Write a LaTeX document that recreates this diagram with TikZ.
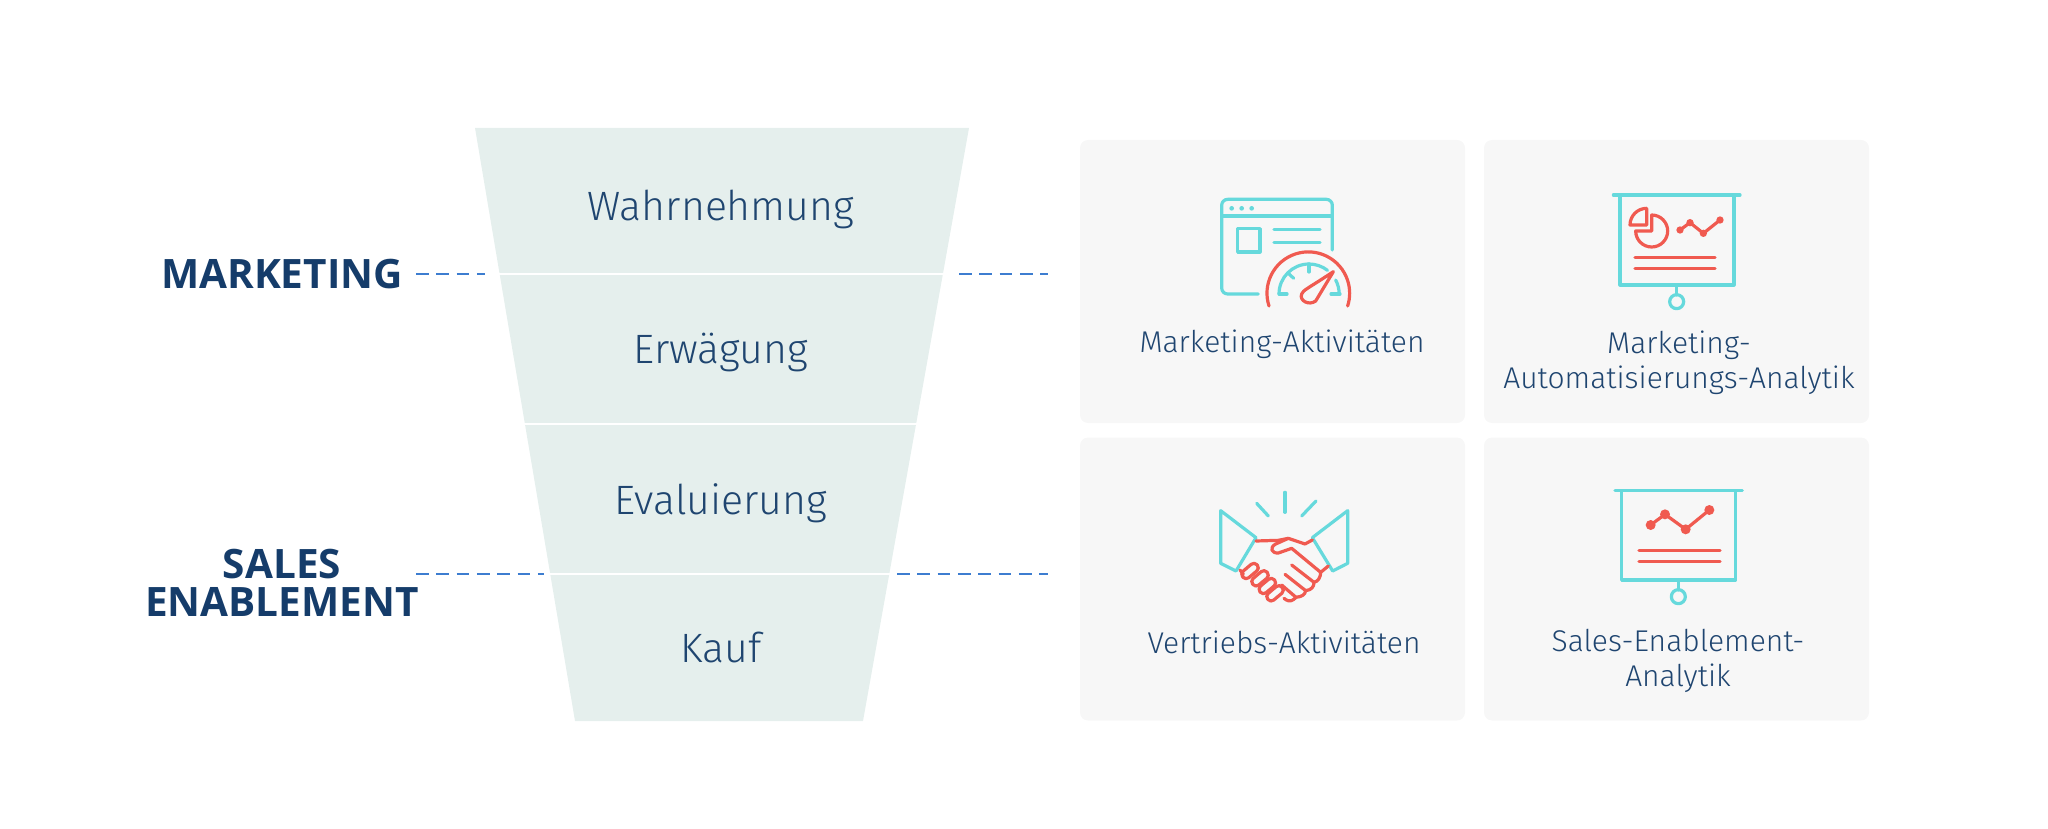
\documentclass[tikz,border=0pt]{standalone}
\usepackage{fontspec}
\setmainfont{Fira Sans Light}[BoldFont={Fira Sans Bold}]
\newfontfamily\headfont{Open Sans}
\usetikzlibrary{calc}
\definecolor{funnelgreen}{HTML}{E5EFED}
\definecolor{panelgrey}{HTML}{F7F7F7}
\definecolor{stageblue}{HTML}{1F4570}
\definecolor{headblue}{HTML}{153C6A}
\definecolor{dashblue}{HTML}{3D7DD0}
\definecolor{iconteal}{HTML}{66D9DC}
\definecolor{iconred}{HTML}{F05A50}
\tikzset{
 stage/.style={text=stageblue, font=\fontsize{41}{44}\selectfont, inner sep=0},
 head/.style={text=headblue, font=\headfont\fontsize{40.5}{38}\selectfont\bfseries, align=center, inner sep=0},
 panel/.style={fill=panelgrey, rounded corners=8, minimum width=385, minimum height=283, inner sep=0},
 paneltext/.style={text=stageblue, font=\fontsize{30}{35.5}\selectfont, align=center, inner sep=0},
 guide/.style={dashblue, line width=2.6, dash pattern=on 12.8 off 7.5},
 teal/.style={iconteal, line width=3.2, line cap=round, line join=round},
 coral/.style={iconred, line width=3.2, line cap=round, line join=round},
 icon/.style={scale=1/3}
}
\begin{document}
\begin{tikzpicture}[x=1pt, y=-1pt]
\useasboundingbox (0,0) rectangle (2048,829);
% funnel
\fill[funnelgreen] (475,128)--(969,128)--(863,721)--(575,721)--cycle;
\foreach \y/\xa/\xb in {274/499/944, 424/524/917, 574/550/890} {
 \draw[white, line width=2.4] (\xa,\y)--(\xb,\y);
}
\foreach \name/\y/\txt in {aware/209/Wahrnehmung, consider/352/Erwägung, evaluate/503/Evaluierung, buy/647/Kauf} {
 \node[stage] (\name) at (721,\y) {\txt};
}
% panels
\node[panel] (panelA) at (1272.5,281.5) {};
\node[panel] (panelB) at (1676.5,281.5) {};
\node[panel] (panelC) at (1272.5,579) {};
\node[panel] (panelD) at (1676.5,579) {};
\node[paneltext] (textA) at (1282,344) {Marketing-Aktivitäten};
\node[paneltext] (textB) at (1679,363) {Marketing-\\Automatisierungs-Analytik};
\node[paneltext] (textC) at (1284,642) {Vertriebs-Aktivitäten};
\node[paneltext] (textD) at (1678,661) {Sales-Enablement-\\Analytik};
% left labels
\node[head] (marketing) at (282,274) {MARKETING};
\node[head] (sales) at (282,583) {SALES\\ENABLEMENT};
% dashed guides
\coordinate (mA) at (416,274); \coordinate (mB) at (485,274);
\coordinate (mC) at (959,274); \coordinate (mD) at (1048,274);
\coordinate (sA) at (416,574); \coordinate (sB) at (544,574);
\coordinate (sC) at (897,574); \coordinate (sD) at (1048,574);
\draw[guide] (mA)--(mB);
\draw[guide] (mC)--(mD);
\draw[guide] (sA)--(sB);
\draw[guide] (sC)--(sD);
% icon browser and gauge
\begin{scope}[shift={(1205,190)}, icon]
\draw[teal] (382,180)--(382,46) arc[start angle=0, end angle=-90, radius=18]--(68,28) arc[start angle=-90, end angle=-180, radius=18]--(50,294) arc[start angle=180, end angle=90, radius=18]--(160,312);
\draw[teal] (50,78)--(382,78);
\foreach \x in {80,110,140} {
 \fill[iconteal] (\x,55) circle (7);
}
\draw[teal] (98,116) rectangle (165,186);
\draw[teal] (207,118)--(345,118);
\draw[teal] (207,157)--(345,157);
\draw[coral] (192,348) arc[start angle=198, end angle=-18, x radius=124, y radius=-124];
\draw[teal] (222,312) arc[start angle=180, end angle=52, x radius=90, y radius=-90];
\draw[teal] (392,270) arc[start angle=28, end angle=0, x radius=90, y radius=-90];
\draw[teal] (222,312)--(246,312);
\draw[teal] (378,312)--(405,312);
\draw[teal] (312,222)--(312,246);
\draw[teal] (250,250)--(266,265);
\draw[coral] (385,245)--(332,333) .. controls (312,348) and (282,332) .. (290,312) .. controls (294,300) and (310,295) .. (385,245)--cycle;
\end{scope}
% icon chart with pie
\begin{scope}[shift={(1605,185)}, icon]
\draw[teal] (25,30)--(405,30);
\draw[teal] (45,30)--(45,300)--(387,300)--(387,30);
\draw[teal] (215,300)--(215,330);
\draw[teal] (215,350) circle (21);
\draw[coral] (140,90) arc[start angle=90, end angle=-180, x radius=48, y radius=-48]--(140,138)--cycle;
\draw[coral] (125,72)--(125,120)--(75,120) arc[start angle=180, end angle=90, x radius=50, y radius=-50];
\draw[coral] (225,135)--(255,113)--(295,145)--(345,105);
\foreach \x/\y in {225/135,255/113,295/145,345/105} {
 \fill[iconred] (\x,\y) circle (11);
}
\draw[coral] (90,217)--(330,217);
\draw[coral] (90,250)--(330,250);
\end{scope}
% icon handshake
\begin{scope}[shift={(1210,485)}, icon]
\draw[teal] (225,22)--(225,82);
\draw[teal] (140,55)--(175,93);
\draw[teal] (318,48)--(275,93);
\draw[teal] (32,77)--(138,158)--(78,258)--(32,235)--cycle;
\draw[teal] (413,77)--(307,158)--(368,258)--(413,235)--cycle;
\draw[coral] (138,168)--(205,166)--(235,160)--(285,177)--(307,165);
\draw[coral] (235,160)--(195,178) .. controls (178,190) and (185,205) .. (205,204)--(245,190)--(332,262)--(355,243);
\draw[coral] (245,240)--(312,292);
\draw[coral] (225,268)--(287,317);
\draw[coral] (215,300)--(258,337);
\draw[coral] (90,255)--(100,268);
\foreach \x/\y in {120/258,150/280,172/303,195/325} {
 \draw[coral, rotate around={40:(\x,\y)}, rounded corners=4] (\x-28,\y-13) rectangle (\x+28,\y+13);
}
\draw[coral] (222,340) .. controls (240,355) and (250,345) .. (258,337) .. controls (275,335) and (285,330) .. (287,317) .. controls (305,315) and (312,305) .. (312,292) .. controls (325,290) and (332,275) .. (332,262);
\end{scope}
% icon chart
\begin{scope}[shift={(1605,480)}, icon]
\draw[teal] (30,32)--(412,32);
\draw[teal] (50,32)--(50,300)--(392,300)--(392,32);
\draw[teal] (220,300)--(220,330);
\draw[teal] (220,350) circle (21);
\draw[coral] (137,135)--(180,103)--(242,148)--(313,90);
\foreach \x/\y in {137/135,180/103,242/148,313/90} {
 \fill[iconred] (\x,\y) circle (15);
}
\draw[coral] (102,211)--(345,211);
\draw[coral] (102,245)--(345,245);
\end{scope}
\end{tikzpicture}
\end{document}
